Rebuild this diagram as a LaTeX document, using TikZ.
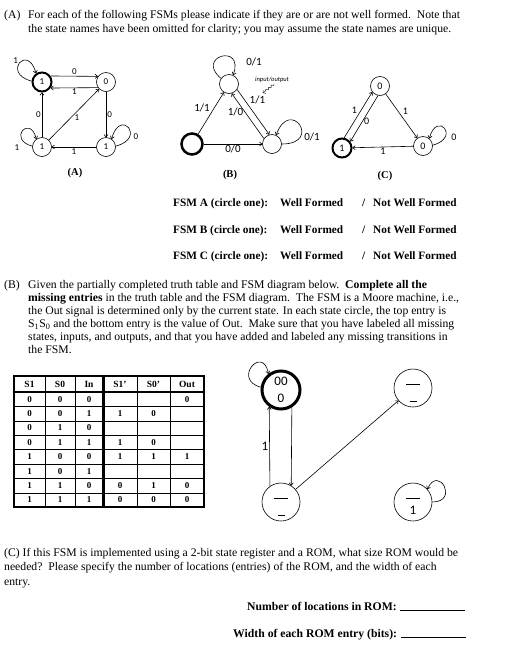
\documentclass[tikz,border=0pt]{standalone}
\usepackage{fontspec}
\setmainfont{Liberation Serif}
\newfontfamily\fsm{Carlito}
\usetikzlibrary{arrows.meta, positioning, calc, decorations.pathmorphing}

\begin{document}
\begin{tikzpicture}[
  x=1pt, y=-1pt,
  txt/.style={anchor=base west, inner sep=0pt, font=\fontsize{11.7}{13}\selectfont},
  btxt/.style={txt, font=\fontsize{11.7}{13}\selectfont\bfseries},
  atxt/.style={txt, font=\fontsize{11.3}{13}\selectfont\bfseries},
  st/.style={circle, draw, line width=0.6pt, minimum size=19pt, inner sep=0pt, font=\fsm\fontsize{9}{10}\selectfont},
  bigst/.style={circle, draw, line width=0.6pt, minimum size=38pt, inner sep=0pt, align=center,
                font=\fsm\fontsize{13}{17}\selectfont},
  initst/.style={line width=2pt},
  blankline/.style={line width=0.7pt},
  tr/.style={-{To[length=3pt,width=4.5pt]}, line width=0.6pt},
  lbl/.style={font=\fsm\fontsize{9}{10}\selectfont, inner sep=1pt},
  cell/.style={inner sep=0pt, font=\fontsize{9}{10}\selectfont\bfseries},
]
\useasboundingbox (0,0) rectangle (505,654);
\fill[white] (0,0) rectangle (505,654);

% === Part (A) text ===
\node[txt] (pa0) at (4,18.5) {(A)};
\node[txt] (pa1) at (28,18.5) {For each of the following FSMs please indicate if they are or are not well formed.\ \ Note that};
\node[txt] (pa2) at (28,32.5) {the state names have been omitted for clarity; you may assume the state names are unique.};

% === FSM A ===
\node[st, initst] (a1) at (42,82)  {1};
\node[st]         (a2) at (106,82) {0};
\node[st]         (a3) at (42,147) {1};
\node[st]         (a4) at (106,147) {1};

\draw[tr] (a1.35) -- node[lbl, above] (la1) {0} (a2.145);
\draw[tr] (a2.215) -- node[lbl, below] (la2) {1} (a1.325);
\draw[tr] (a3) -- node[lbl, left] (la3) {0} (a1);
\draw[tr] (a2) -- node[lbl, right] (la4) {0} (a4);
\draw[tr] (a3) -- node[lbl, pos=.5, below right=-1pt] (la5) {1} (a2);
\draw[tr] (a4) -- node[lbl, below] (la6) {1} (a3);
\draw[tr] (a1.175) to[out=165, in=105, looseness=9] node[lbl, pos=.45, above left=-1pt] (la7) {1} (a1.125);
\draw[tr] (a3.175) to[out=165, in=105, looseness=8] (a3.125);
\node[lbl] (la8) at (17,148) {1};
\draw[tr] (a4.5) to[out=15, in=75, looseness=10] (a4.55);
\node[lbl] (la9) at (136,137) {0};
\node[font=\fontsize{10.5}{12}\selectfont\bfseries] (capa) at (75,173) {(A)};

% === FSM B ===
\node[st] (b1) at (229,84) {};
\node[st, initst, minimum size=21pt, line width=2.5pt] (b2) at (192,144) {};
\node[st] (b3) at (272,144) {};

\draw[tr] (b2) -- node[lbl, above left, font=\fsm\fontsize{11}{12}\selectfont] (lb1) {1/1} (b1);
\draw[tr] (b1.-34) -- node[lbl, above right, pos=.35, font=\fsm\fontsize{11}{12}\selectfont] (lb2) {1/1} (b3.106);
\draw[tr] (b3.146) -- node[lbl, left, pos=.6, font=\fsm\fontsize{11}{12}\selectfont] (lb3) {1/0} (b1.-74);
\draw[tr] (b2) -- node[lbl, below, font=\fsm\fontsize{11}{12}\selectfont] (lb4) {0/0} (b3);
\draw[tr] (b1.145) to[out=140, in=70, looseness=7] (b1.65);
\node[lbl, font=\fsm\fontsize{11}{12}\selectfont] (lb5) at ($(b1)+(25,-22)$) {0/1};
\draw[tr] (b3.0) to[out=0, in=70, looseness=10] (b3.65);
\node[lbl, font=\fsm\fontsize{11}{12}\selectfont] (lb6) at ($(b3)+(40,-7)$) {0/1};
\node[font=\fsm\fontsize{6.5}{7}\selectfont\itshape, inner sep=0pt] (io) at (272,80) {input/output};
\coordinate (iotip) at (263,93);
\draw[-{To[length=2pt]}, line width=0.4pt, decorate,
  decoration={snake, amplitude=1pt, segment length=3.5pt, post length=2pt}] ([xshift=2pt, yshift=-1pt]io.south) -- (iotip);
\node[font=\fontsize{10.5}{12}\selectfont\bfseries] (capb) at (230,175) {(B)};

% === FSM C ===
\node[st, font=\fsm\fontsize{10}{11}\selectfont] (c1) at (380,86) {0};
\node[st, font=\fsm\fontsize{10}{11}\selectfont] (c2) at (423,146) {0};
\node[st, initst, font=\fsm\fontsize{10}{11}\selectfont] (c3) at (342,148) {1};

\draw[tr] (c3.78) -- node[lbl, above left, font=\fsm\fontsize{10}{11}\selectfont] (lc1) {1} (c1.218);
\draw[tr] (c1.258) -- node[lbl, right, pos=.55, font=\fsm\fontsize{10}{11}\selectfont] (lc2) {0} (c3.38);
\draw[tr] (c1) -- node[lbl, above right, font=\fsm\fontsize{10}{11}\selectfont] (lc3) {1} (c2);
\draw[tr] (c2) -- node[lbl, below, font=\fsm\fontsize{10}{11}\selectfont] (lc4) {1} (c3);
\draw[tr] (c2.5) to[out=15, in=75, looseness=10] (c2.50);
\node[lbl, font=\fsm\fontsize{10}{11}\selectfont] (lc5) at (454,137) {0};
\node[font=\fontsize{10.5}{12}\selectfont\bfseries] (capc) at (385,176) {(C)};

% === Answers ===
\foreach \f/\y in {A/206.5, B/233.5, C/259.5} {
  \node[atxt] (q\f) at (173,\y) {FSM \f\ (circle one):};
  \node[atxt] (w\f) at (280,\y) {Well Formed};
  \node[atxt] (s\f) at (362,\y) {/};
  \node[atxt] (n\f) at (373,\y) {Not Well Formed};
}

% === Part (B) text ===
\node[txt] (pb0) at (4,288.5) {(B)};
\node[txt] (pb1) at (28,288.5) {Given the partially completed truth table and FSM diagram below.\ \ \textbf{Complete all the}};
\node[txt] (pb2) at (28,301.5) {\textbf{missing entries} in the truth table and the FSM diagram.\ \ The FSM is a Moore machine, i.e.,};
\node[txt] (pb3) at (28,314.5) {the Out signal is determined only by the current state. In each state circle, the top entry is};
\node[txt] (pb4) at (28,327.5) {S\textsubscript{1}S\textsubscript{0} and the bottom entry is the value of Out.\ \ Make sure that you have labeled all missing};
\node[txt] (pb5) at (28,340.5) {states, inputs, and outputs, and that you have added and labeled any missing transitions in};
\node[txt] (pb6) at (28,353.5) {the FSM.};

% === Truth table ===
\foreach \ry in {406.4,420.8,435.2,449.6,464,478.4,492.8}
  \draw[line width=0.6pt] (14,\ry) -- (204,\ry);
\foreach \cx in {45,75,137,170}
  \draw[line width=0.6pt] (\cx,376) -- (\cx,507);
\draw[line width=1.8pt] (14,392) -- (204,392);
\draw[line width=3pt] (103,376) -- (103,507);
\draw[line width=1.2pt] (14,376) rectangle (204,507);
\foreach \h/\cx [count=\c] in {S1/29.5, S0/60, In/89, S1’/120, S0’/153.5, Out/187}
  \node[cell, font=\fontsize{9.5}{10}\selectfont\bfseries] (h\c) at (\cx,384) {\h};
\foreach \sa/\sb/\ip/\na/\nb/\ou [count=\i] in
  {0/0/0/{}/{}/0, 0/0/1/1/0/{}, 0/1/0/{}/{}/{}, 0/1/1/1/0/{},
   1/0/0/1/1/1, 1/0/1/{}/{}/{}, 1/1/0/0/1/0, 1/1/1/0/0/0} {
  \pgfmathsetmacro{\ry}{399.2+14.4*(\i-1)}
  \node[cell] (r\i c1) at (29.5,\ry)  {\sa};
  \node[cell] (r\i c2) at (60,\ry)    {\sb};
  \node[cell] (r\i c3) at (89,\ry)    {\ip};
  \node[cell] (r\i c4) at (120,\ry)   {\na};
  \node[cell] (r\i c5) at (153.5,\ry) {\nb};
  \node[cell] (r\i c6) at (187,\ry)   {\ou};
}

% === Moore FSM ===
\node[bigst, line width=3pt] (s0) at (281,390) {00\\0};
\node[bigst] (s1) at (413,388) {};
\node[bigst] (s2) at (281,502) {};
\node[bigst] (s3) at (413,502) {\phantom{0}\\1};
% blanks to fill in
\draw[blankline] (406,384) -- (420,384);
\draw[blankline] (274,498) -- (288,498);
\draw[blankline] (406,498) -- (420,498);
\draw[blankline] (409.5,401.5) -- (416.5,401.5);
\draw[blankline] (277.5,515.5) -- (284.5,515.5);

\draw[tr] (s2.125) -- node[lbl, left, font=\fsm\fontsize{13}{14}\selectfont] (ls1) {1} (s0.235);
\draw[tr] (s0.302) -- (s2.58);
\draw[tr] (s2) -- (s1);
\draw[tr] (s0.172) to[out=165, in=100, looseness=5] (s0.128);
\draw[tr] (s3.0) to[out=0, in=65, looseness=5] (s3.42);

% === Part (C) text ===
\node[txt] (pc1) at (4,556.5) {(C) If this FSM is implemented using a 2-bit state register and a ROM, what size ROM would be};
\node[txt] (pc2) at (4,570.5) {needed?\ \ Please specify the number of locations (entries) of the ROM, and the width of each};
\node[txt] (pc3) at (4,585) {entry.};
\node[btxt] (rom1) at (247,610.5) {Number of locations in ROM: \rule{65pt}{0.4pt}};
\node[btxt] (rom2) at (233,637.5) {Width of each ROM entry (bits): \rule{65pt}{0.4pt}};

\end{tikzpicture}
\end{document}
